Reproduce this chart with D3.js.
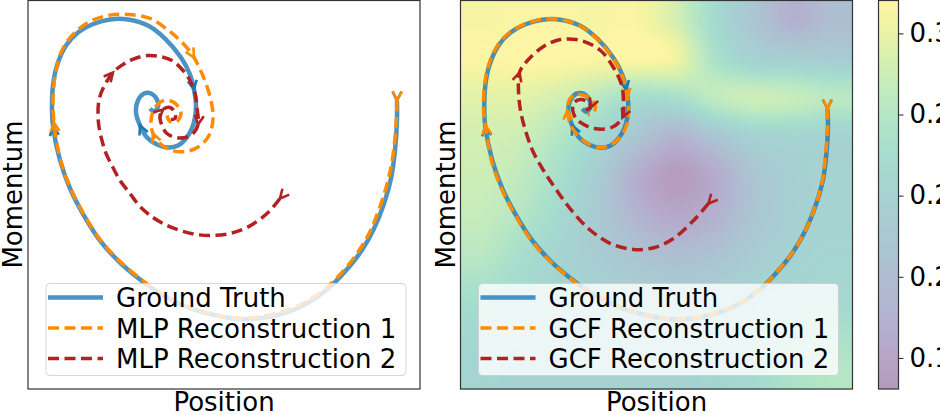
<!DOCTYPE html>
<html>
<head>
<meta charset="utf-8">
<script src="https://cdn.jsdelivr.net/npm/d3@7"></script>
<style>
  body { margin: 0; background: #fff; }
  text { font-family: "DejaVu Sans", sans-serif; fill: #000; }
</style>
</head>
<body>
<div id="chart"></div>
<script>
// ---- data (position, momentum) ----
const groundTruth = [[1.765,0.972],[1.765,0.766],[1.745,0.458],[1.704,0.170],[1.633,-0.087],[1.531,-0.344],[1.398,-0.581],[1.235,-0.787],[1.051,-0.972],[0.827,-1.126],[0.602,-1.219],[0.347,-1.270],[0.092,-1.270],[-0.163,-1.219],[-0.418,-1.136],[-0.653,-1.013],[-0.857,-0.869],[-1.082,-0.674],[-1.265,-0.468],[-1.429,-0.211],[-1.571,0.067],[-1.673,0.355],[-1.745,0.704],[-1.755,0.869],[-1.745,1.126],[-1.704,1.332],[-1.612,1.537],[-1.490,1.671],[-1.347,1.753],[-1.163,1.805],[-0.980,1.805],[-0.776,1.743],[-0.602,1.609],[-0.439,1.414],[-0.347,1.239],[-0.306,1.085],[-0.286,0.931],[-0.296,0.797],[-0.327,0.684],[-0.388,0.581],[-0.469,0.509],[-0.571,0.488],[-0.684,0.519],[-0.786,0.591],[-0.857,0.715],[-0.898,0.848],[-0.878,0.972],[-0.816,1.044],[-0.745,1.044],[-0.684,0.982],[-0.673,0.910],[-0.714,0.859],[-0.755,0.889]]
const groundTruthArrows = [0, 35, 22, 44]

// ground truth as drawn in the GCF panel (its first samples sit a little lower)
const groundTruthGcf = [[1.745,0.889],[1.750,0.700],[1.735,0.440],[1.700,0.165],[1.629,-0.092],[1.527,-0.349],[1.394,-0.586],[1.231,-0.791],[1.047,-0.976],[0.825,-1.128],[0.600,-1.221],[0.345,-1.272],[0.090,-1.272],[-0.165,-1.221],[-0.420,-1.138],[-0.655,-1.015],[-0.859,-0.871],[-1.084,-0.676],[-1.267,-0.470],[-1.431,-0.213],[-1.573,0.065],[-1.675,0.353],[-1.747,0.702],[-1.757,0.867],[-1.747,1.124],[-1.706,1.330],[-1.614,1.535],[-1.492,1.669],[-1.349,1.751],[-1.165,1.803],[-0.982,1.803],[-0.778,1.741],[-0.604,1.607],[-0.441,1.412],[-0.349,1.237],[-0.308,1.083],[-0.288,0.929],[-0.298,0.795],[-0.329,0.682],[-0.390,0.579],[-0.471,0.507],[-0.573,0.486],[-0.686,0.517],[-0.788,0.589],[-0.859,0.713],[-0.900,0.846],[-0.880,0.970],[-0.818,1.042],[-0.747,1.042],[-0.686,0.980],[-0.675,0.908],[-0.716,0.857],[-0.757,0.887]]

const mlpRecon1 = [[1.765,0.972],[1.755,0.715],[1.724,0.406],[1.673,0.149],[1.592,-0.118],[1.490,-0.375],[1.357,-0.602],[1.194,-0.807],[1.010,-0.982],[0.776,-1.126],[0.551,-1.208],[0.306,-1.260],[0.061,-1.260],[-0.184,-1.208],[-0.429,-1.126],[-0.653,-1.003],[-0.857,-0.859],[-1.082,-0.663],[-1.265,-0.458],[-1.429,-0.201],[-1.571,0.077],[-1.673,0.375],[-1.735,0.746],[-1.745,0.972],[-1.724,1.229],[-1.663,1.465],[-1.551,1.640],[-1.388,1.774],[-1.184,1.846],[-0.980,1.856],[-0.755,1.815],[-0.541,1.671],[-0.398,1.537],[-0.306,1.414],[-0.204,1.198],[-0.133,0.972],[-0.112,0.787],[-0.153,0.612],[-0.255,0.499],[-0.388,0.447],[-0.531,0.458],[-0.653,0.530],[-0.724,0.632],[-0.745,0.766],[-0.704,0.900],[-0.612,0.972],[-0.510,0.951],[-0.439,0.848],[-0.480,0.756],[-0.551,0.756],[-0.582,0.817]]
const mlpRecon1Arrows = [0, 22, 33, 42]

const mlpRecon2 = [[0.571,-0.036],[0.439,-0.190],[0.235,-0.334],[0.061,-0.396],[-0.112,-0.416],[-0.286,-0.406],[-0.449,-0.365],[-0.602,-0.303],[-0.724,-0.231],[-0.857,-0.118],[-0.959,0.015],[-1.061,0.149],[-1.133,0.283],[-1.204,0.427],[-1.245,0.560],[-1.276,0.704],[-1.286,0.838],[-1.276,0.972],[-1.235,1.095],[-1.133,1.260],[-1.031,1.342],[-0.939,1.393],[-0.786,1.434],[-0.653,1.424],[-0.531,1.383],[-0.418,1.280],[-0.347,1.177],[-0.296,1.044],[-0.276,0.900],[-0.265,0.725],[-0.316,0.632],[-0.398,0.591],[-0.490,0.591],[-0.582,0.632],[-0.633,0.715],[-0.653,0.807],[-0.622,0.879],[-0.551,0.900],[-0.500,0.848],[-0.500,0.787],[-0.541,0.776]]
const mlpRecon2Arrows = [0, 19, 29, 36]

const gcfRecon1 = [[1.745,0.889],[1.745,0.663],[1.724,0.406],[1.694,0.149],[1.622,-0.108],[1.520,-0.365],[1.388,-0.591],[1.224,-0.797],[1.041,-0.982],[0.816,-1.126],[0.592,-1.219],[0.337,-1.270],[0.082,-1.270],[-0.173,-1.219],[-0.429,-1.136],[-0.663,-1.013],[-0.867,-0.869],[-1.092,-0.674],[-1.276,-0.468],[-1.439,-0.211],[-1.582,0.067],[-1.684,0.355],[-1.745,0.715],[-1.765,0.869],[-1.755,1.126],[-1.714,1.332],[-1.622,1.537],[-1.500,1.671],[-1.357,1.753],[-1.173,1.805],[-0.990,1.805],[-0.786,1.743],[-0.612,1.609],[-0.449,1.414],[-0.347,1.218],[-0.296,1.003],[-0.286,0.848],[-0.306,0.715],[-0.367,0.602],[-0.459,0.519],[-0.571,0.488],[-0.684,0.519],[-0.796,0.602],[-0.878,0.725],[-0.908,0.869],[-0.888,0.982],[-0.827,1.033],[-0.735,1.023],[-0.653,0.972],[-0.622,0.900],[-0.653,0.838],[-0.704,0.828]]
const gcfRecon1Arrows = [0, 22, 35, 44]

const gcfRecon2 = [[0.531,-0.087],[0.378,-0.262],[0.173,-0.447],[-0.020,-0.540],[-0.235,-0.560],[-0.469,-0.499],[-0.684,-0.355],[-0.867,-0.159],[-1.031,0.067],[-1.153,0.252],[-1.265,0.458],[-1.337,0.663],[-1.388,0.869],[-1.408,1.075],[-1.398,1.260],[-1.316,1.383],[-1.153,1.527],[-0.980,1.599],[-0.776,1.589],[-0.571,1.486],[-0.439,1.311],[-0.357,1.136],[-0.337,0.972],[-0.347,0.797],[-0.459,0.694],[-0.633,0.684],[-0.776,0.746],[-0.847,0.838],[-0.847,0.941],[-0.776,0.982],[-0.694,0.951],[-0.673,0.900],[-0.724,0.879]]
const gcfRecon2Arrows = [0, 14, 23, 31]

// uncertainty field behind the GCF panel (rows top -> bottom, columns left -> right)
const uncertaintyGrid = [
  [0.330,0.332,0.332,0.330,0.330,0.305,0.255,0.215,0.180,0.200],
  [0.332,0.335,0.335,0.333,0.335,0.325,0.270,0.240,0.235,0.230],
  [0.315,0.315,0.305,0.285,0.260,0.265,0.290,0.300,0.295,0.285],
  [0.305,0.300,0.280,0.250,0.215,0.185,0.215,0.240,0.245,0.240],
  [0.300,0.290,0.265,0.230,0.175,0.150,0.170,0.215,0.235,0.240],
  [0.295,0.280,0.255,0.225,0.185,0.165,0.180,0.215,0.235,0.240],
  [0.285,0.265,0.245,0.228,0.212,0.200,0.208,0.228,0.240,0.245],
  [0.265,0.255,0.245,0.238,0.232,0.228,0.232,0.240,0.245,0.250],
  [0.250,0.245,0.240,0.240,0.240,0.240,0.240,0.245,0.255,0.265],
  [0.245,0.240,0.240,0.240,0.240,0.240,0.245,0.255,0.270,0.280]
]
const colorLimits = [0.1447, 0.3362]
const colorbarTicks = [0.32, 0.28, 0.24, 0.20, 0.16]

const mlpLabels = ["Ground Truth", "MLP Reconstruction 1", "MLP Reconstruction 2"]
const gcfLabels = ["Ground Truth", "GCF Reconstruction 1", "GCF Reconstruction 2"]

// ---- layout ----
const width = 940
const height = 415
const plotW = 392
const plotH = 389
const leftX = 28
const rightX = 460.5

const blue = "#1f77b4"
const orange = "#ff8c00"
const red = "#b22222"

const svg = d3.select("div#chart").append("svg").attr("width", width).attr("height", height)

const x = d3.scaleLinear().domain([-2, 2]).range([0, plotW])
const y = d3.scaleLinear().domain([-2, 2]).range([plotH, 0])
const color = d3.scaleSequential(d3.interpolateViridis).domain(colorLimits)

const line = d3.line().x(d => x(d[0])).y(d => y(d[1])).curve(d3.curveCatmullRom.alpha(0.5))

function drawTrajectory(g, data, arrows, style) {
    g.append("path")
        .datum(data)
        .attr("d", line)
        .attr("fill", "none")
        .attr("stroke", style.color)
        .attr("stroke-opacity", style.opacity || 1)
        .attr("stroke-width", style.width)
        .attr("stroke-dasharray", style.dash || null)
        .attr("stroke-linejoin", "round")
    arrows.forEach(k => {
        const a = data[Math.max(k - 1, 0)], b = data[Math.min(k + 1, data.length - 1)]
        const ang = Math.atan2(y(b[1]) - y(a[1]), x(b[0]) - x(a[0])) * 180 / Math.PI
        g.append("path")
            .attr("d", "M-9,-4.5L0,0L-9,4.5")
            .attr("transform", `translate(${x(data[k][0])},${y(data[k][1])}) rotate(${ang})`)
            .attr("fill", "none")
            .attr("stroke", style.arrowColor || style.color)
            .attr("stroke-width", 2.6)
            .attr("stroke-linejoin", "miter")
    })
}

function drawLegend(g, labels) {
    const lg = g.append("g").attr("transform", "translate(18,283)")
    lg.append("rect")
        .attr("width", 360).attr("height", 92)
        .attr("rx", 4)
        .attr("fill", "#fff").attr("fill-opacity", 0.8)
        .attr("stroke", "#ccc").attr("stroke-opacity", 0.8)
    const styles = [
        {color: blue, opacity: 0.8, width: 4.5, dash: null},
        {color: orange, opacity: 1, width: 3.5, dash: "11,5.5"},
        {color: red, opacity: 1, width: 3.5, dash: "11,5.5"}
    ]
    labels.forEach((lab, i) => {
        const yy = 14 + i * 30.5
        lg.append("line")
            .attr("x1", 2).attr("x2", 57).attr("y1", yy).attr("y2", yy)
            .attr("stroke", styles[i].color)
            .attr("stroke-opacity", styles[i].opacity)
            .attr("stroke-width", styles[i].width)
            .attr("stroke-dasharray", styles[i].dash)
        lg.append("text")
            .attr("x", 70).attr("y", yy + 9.5)
            .style("font-size", "26px")
            .text(lab)
    })
}

// smooth (bicubic) rendering of the coarse grid over the axes area
function fieldImage() {
    const rows = uncertaintyGrid.length, cols = uncertaintyGrid[0].length
    const at = (j, i) => uncertaintyGrid[Math.max(0, Math.min(rows - 1, j))][Math.max(0, Math.min(cols - 1, i))]
    const cub = (p0, p1, p2, p3, t) => p1 + 0.5 * t * (p2 - p0 + t * (2 * p0 - 5 * p1 + 4 * p2 - p3 + t * (3 * (p1 - p2) + p3 - p0)))
    const cv = document.createElement("canvas")
    cv.width = plotW; cv.height = plotH
    const ctx = cv.getContext("2d")
    const img = ctx.createImageData(plotW, plotH)
    for (let py = 0; py < plotH; py++) {
        const gy = Math.max(0, Math.min(rows - 1, (py + 0.5) / plotH * rows - 0.5))
        const j = Math.floor(gy), ty = gy - j
        for (let px = 0; px < plotW; px++) {
            const gx = Math.max(0, Math.min(cols - 1, (px + 0.5) / plotW * cols - 0.5))
            const i = Math.floor(gx), tx = gx - i
            const r = [-1, 0, 1, 2].map(dj => cub(at(j + dj, i - 1), at(j + dj, i), at(j + dj, i + 1), at(j + dj, i + 2), tx))
            let v = cub(r[0], r[1], r[2], r[3], ty)
            v = Math.max(colorLimits[0], Math.min(colorLimits[1], v))
            const c = d3.rgb(color(v))
            const o = (py * plotW + px) * 4
            img.data[o] = c.r; img.data[o + 1] = c.g; img.data[o + 2] = c.b; img.data[o + 3] = 255
        }
    }
    ctx.putImageData(img, 0, 0)
    return cv.toDataURL()
}

function drawPanel(px, truth, recon1, recon1Arrows, recon2, recon2Arrows, labels, withField) {
    const g = svg.append("g").attr("transform", `translate(${px},0.5)`)
    if (withField) {
        g.append("image")
            .attr("href", fieldImage())
            .attr("width", plotW).attr("height", plotH)
            .attr("preserveAspectRatio", "none")
            .attr("opacity", 0.4)
    }
    drawTrajectory(g, truth, groundTruthArrows, {color: blue, opacity: 0.8, width: 4.5, arrowColor: blue})
    drawTrajectory(g, recon1, recon1Arrows, {color: orange, width: 3.5, dash: "11,5.5"})
    drawTrajectory(g, recon2, recon2Arrows, {color: red, width: 3.5, dash: "11,5.5"})
    drawLegend(g, labels)
    g.append("rect")
        .attr("width", plotW).attr("height", plotH - 0.5)
        .attr("fill", "none").attr("stroke", "#333").attr("stroke-width", 1.2)

    svg.append("text")
        .attr("x", px + plotW / 2).attr("y", 411)
        .attr("text-anchor", "middle")
        .style("font-size", "26px")
        .text("Position")
    svg.append("text")
        .attr("transform", `translate(${px - 6},${plotH / 2}) rotate(-90)`)
        .attr("text-anchor", "middle")
        .style("font-size", "26px")
        .text("Momentum")
}

drawPanel(leftX, groundTruth, mlpRecon1, mlpRecon1Arrows, mlpRecon2, mlpRecon2Arrows, mlpLabels, false)
drawPanel(rightX, groundTruthGcf, gcfRecon1, gcfRecon1Arrows, gcfRecon2, gcfRecon2Arrows, gcfLabels, true)

// ---- colorbar ----
const cbX = 878.5, cbW = 20
const cbScale = d3.scaleLinear().domain(colorLimits).range([plotH, 0.5])
const defs = svg.append("defs")
const grad = defs.append("linearGradient").attr("id", "cbgrad")
    .attr("x1", 0).attr("x2", 0).attr("y1", 1).attr("y2", 0)
d3.range(0, 1.0001, 0.05).forEach(t => {
    grad.append("stop").attr("offset", t)
        .attr("stop-color", color(colorLimits[0] + t * (colorLimits[1] - colorLimits[0])))
})
svg.append("rect")
    .attr("x", cbX).attr("y", 0.5).attr("width", cbW).attr("height", plotH - 0.5)
    .attr("fill", "url(#cbgrad)").attr("fill-opacity", 0.4)
const cbAxis = svg.append("g").attr("transform", `translate(${cbX + cbW},0)`)
    .call(d3.axisRight(cbScale).tickValues(colorbarTicks).tickSize(5).tickPadding(6).tickFormat(d3.format(".2f")))
cbAxis.select(".domain").remove()
cbAxis.selectAll(".tick line").attr("stroke", "#333").attr("stroke-width", 1.1)
cbAxis.selectAll(".tick text").style("font-size", "26px").style("font-family", "DejaVu Sans").attr("fill", "#000")
svg.append("rect")
    .attr("x", cbX).attr("y", 0.5).attr("width", cbW).attr("height", plotH - 0.5)
    .attr("fill", "none").attr("stroke", "#333").attr("stroke-width", 1.2)
</script>
</body>
</html>
